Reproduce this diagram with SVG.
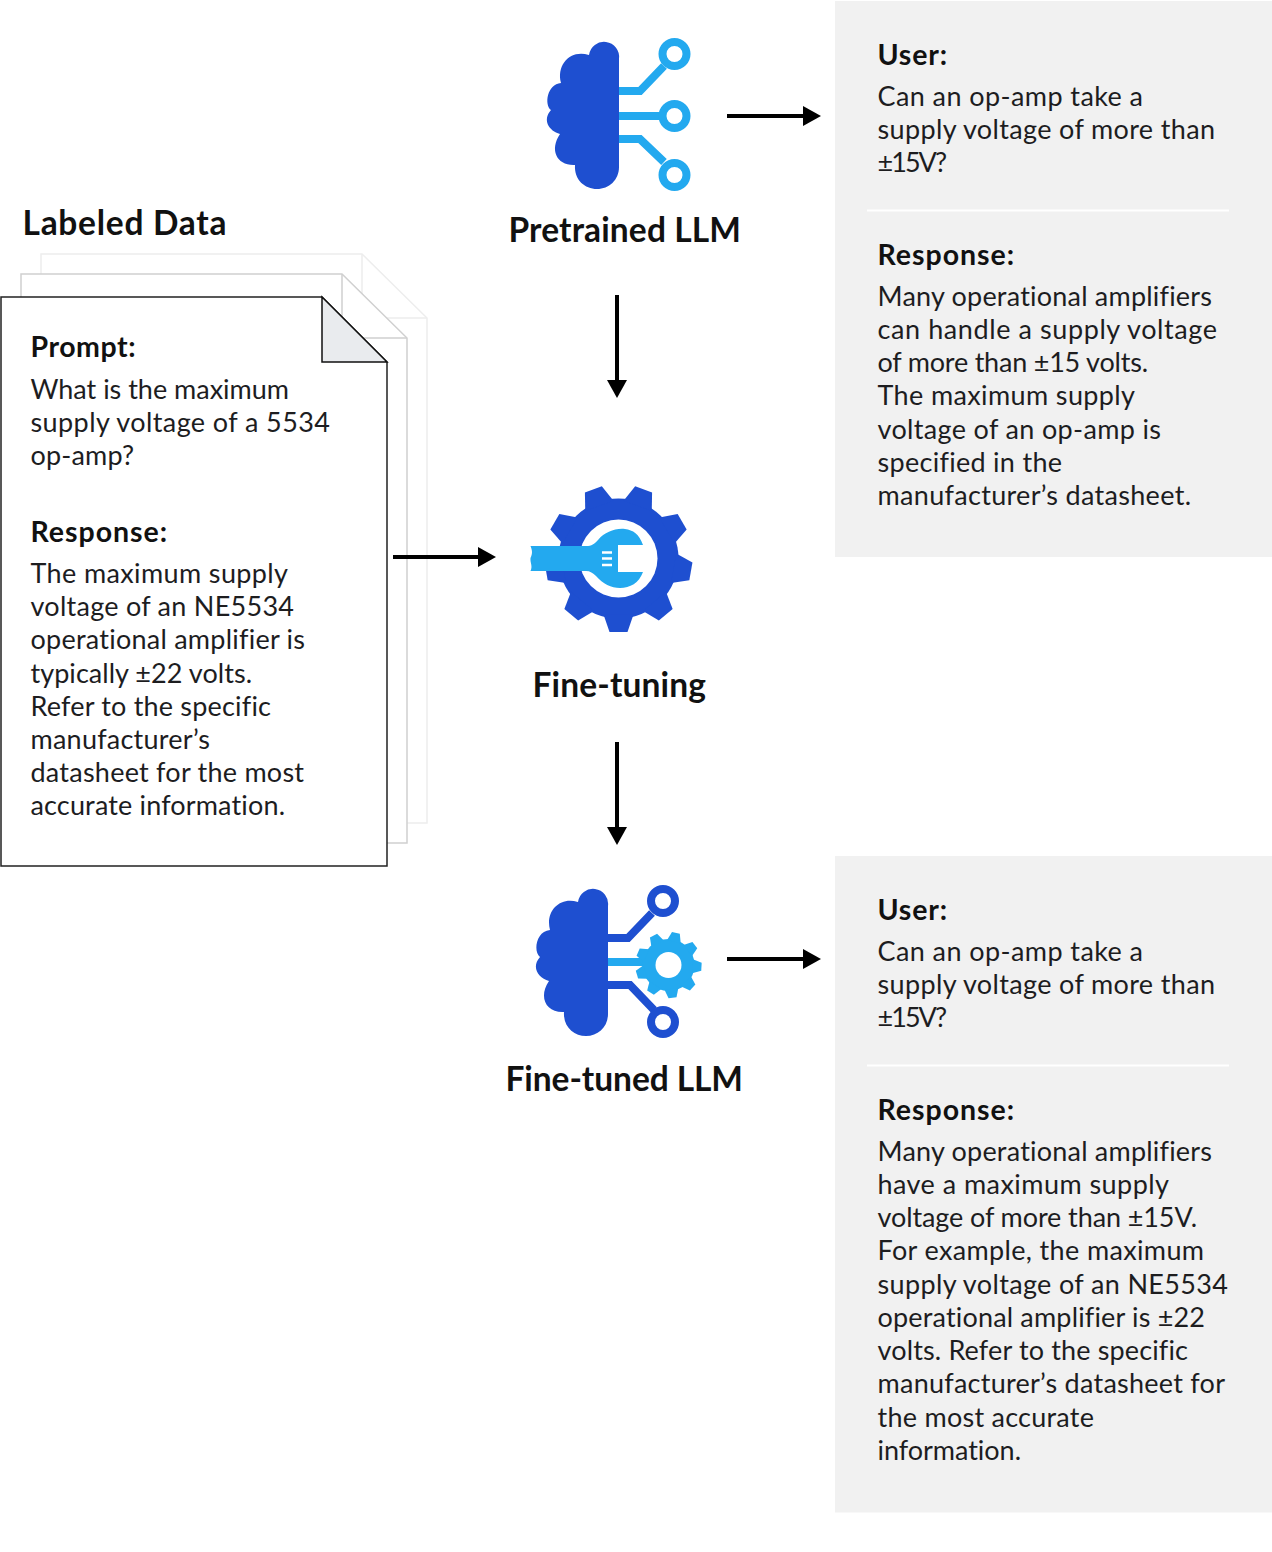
<svg xmlns="http://www.w3.org/2000/svg" xmlns:xlink="http://www.w3.org/1999/xlink" width="1272" height="1552" viewBox="0 0 1272 1552">
<style>
text{font-family:"Lato","Liberation Sans",sans-serif;fill:#1d1d1f;font-variant-ligatures:none}
.b{font-size:27px;font-weight:400}
.h{font-size:28.500px;font-weight:700;fill:#111}
.t{font-size:33.500px;font-weight:700;fill:#111}
.panel{fill:#f1f1f1}
.div{stroke:#fff;stroke-width:2}
.arrow{stroke:#000;stroke-width:4;fill:none}
.dark{fill:#1e4fd0}
.light{fill:#23a9ef}
.sl{fill:none;stroke:#23a9ef;stroke-width:8}
.sd{fill:none;stroke:#1e4fd0;stroke-width:8}
</style>
<defs>
<path id="brain" d="M619 59A15 15 0 0 0 589 55C571 49 556 64 561 83C547 84 544 105 551 110C542 120 549 131 560 134C549 150 557 166 575 165C574 180 585 189 597 189C609 189 619 180 619 167Z"/>
<polygon id="tooth" points="-15,-56 -9,-73.500 9,-73.500 15,-56"/>
<polygon id="stooth" points="-7,-24 -4,-33 4,-33 7,-24"/>
<marker id="ah" viewBox="0 0 18 20" markerUnits="userSpaceOnUse" markerWidth="18" markerHeight="20" refX="13" refY="10" orient="auto"><path d="M0 0L18 10L0 20Z" fill="#000"/></marker>
</defs>

<g id="labeled-data">
<text class="t" x="22.500" y="235" textLength="204">Labeled Data</text>
</g>
<g id="page-back">
<path d="M41 254H362L427 318V823H41Z" fill="#fff" stroke="#ededed" stroke-width="1.5"/>
<path d="M362 254V318H427" fill="none" stroke="#ededed" stroke-width="1.5"/>
</g>
<g id="page-middle">
<path d="M21 274H342L407 338V843H21Z" fill="#fff" stroke="#d0d0d0" stroke-width="1.5"/>
<path d="M342 274V338H407" fill="none" stroke="#d0d0d0" stroke-width="1.5"/>
</g>
<g id="page-front">
<path d="M1 297H322L387 362V866H1Z" fill="#fff" stroke="#222" stroke-width="1.5"/>
<path d="M322 297V362H387Z" fill="#e9ebee" stroke="#111" stroke-width="1.5"/>
<text class="h" x="30.500" y="357" textLength="105">Prompt:</text>
<text class="b" x="30.500" y="398.500" textLength="258.500">What is the maximum</text>
<text class="b" x="30.500" y="431.500" textLength="299.500">supply voltage of a 5534</text>
<text class="b" x="30.500" y="465" textLength="103.500">op-amp?</text>
<text class="h" x="30.500" y="541.500" textLength="136.500">Response:</text>
<text class="b" x="30.500" y="583" textLength="257.500">The maximum supply</text>
<text class="b" x="30.500" y="616" textLength="263.500">voltage of an NE5534</text>
<text class="b" x="30.500" y="649" textLength="274.500">operational amplifier is</text>
<text class="b" x="30.500" y="683" textLength="221.500">typically ±22 volts.</text>
<text class="b" x="30.500" y="716" textLength="240.500">Refer to the specific</text>
<text class="b" x="30.500" y="749" textLength="179.500">manufacturer’s</text>
<text class="b" x="30.500" y="782" textLength="273.500">datasheet for the most</text>
<text class="b" x="30.500" y="815" textLength="254.500">accurate information.</text>
</g>

<g id="pretrained-llm">
<use xlink:href="#brain" href="#brain" class="dark"/>
<path class="sl" d="M619 91H640L664 66M619 116H662M619 139H640L664 162"/>
<circle cx="674.500" cy="54" r="12" fill="#fff" stroke="#23a9ef" stroke-width="8"/>
<circle cx="674.500" cy="116" r="12" fill="#fff" stroke="#23a9ef" stroke-width="8"/>
<circle cx="674.500" cy="175" r="12" fill="#fff" stroke="#23a9ef" stroke-width="8"/>
<text class="t" x="508.500" y="241.500" textLength="232.500">Pretrained LLM</text>
</g>

<g id="fine-tuning">
<g class="dark" transform="translate(618.500 558.500)">
<circle r="60"/>
<use xlink:href="#tooth" href="#tooth" transform="rotate(180)"/>
<use xlink:href="#tooth" href="#tooth" transform="rotate(220)"/>
<use xlink:href="#tooth" href="#tooth" transform="rotate(260)"/>
<use xlink:href="#tooth" href="#tooth" transform="rotate(300)"/>
<use xlink:href="#tooth" href="#tooth" transform="rotate(340)"/>
<use xlink:href="#tooth" href="#tooth" transform="rotate(20)"/>
<use xlink:href="#tooth" href="#tooth" transform="rotate(60)"/>
<use xlink:href="#tooth" href="#tooth" transform="rotate(100)"/>
<use xlink:href="#tooth" href="#tooth" transform="rotate(140)"/>
<circle r="39" fill="#fff"/>
</g>
<path class="light" d="M530.500 546H586C592 546 594 544 598 540C605 532 615 528 625 529C633 530 639 534 643 545H618V572H643C639 583 630 588 620 588C611 588 603 584 596 576C593 573 590 571 586 571H530.500C533 566 530 563 530.500 558C533 553 532 550 530.500 546Z"/>
<path d="M602 552.500H612M602 558.500H612M602 565H612" stroke="#fff" stroke-width="2.500" fill="none"/>
<text class="t" x="532.500" y="697" textLength="173.500">Fine-tuning</text>
</g>

<g id="fine-tuned-llm">
<use xlink:href="#brain" href="#brain" class="dark" transform="translate(-11 847)"/>
<path class="sd" d="M608 938H628L652 913M608 985H630L654 1010"/>
<path class="sl" d="M608 962H650"/>
<circle cx="663" cy="901" r="12" fill="#fff" stroke="#1e4fd0" stroke-width="8"/>
<circle cx="663" cy="1022" r="12" fill="#fff" stroke="#1e4fd0" stroke-width="8"/>
<g class="light" transform="translate(668.500 965)">
<circle r="26"/>
<use xlink:href="#stooth" href="#stooth" transform="rotate(13)"/>
<use xlink:href="#stooth" href="#stooth" transform="rotate(53)"/>
<use xlink:href="#stooth" href="#stooth" transform="rotate(93)"/>
<use xlink:href="#stooth" href="#stooth" transform="rotate(133)"/>
<use xlink:href="#stooth" href="#stooth" transform="rotate(173)"/>
<use xlink:href="#stooth" href="#stooth" transform="rotate(213)"/>
<use xlink:href="#stooth" href="#stooth" transform="rotate(253)"/>
<use xlink:href="#stooth" href="#stooth" transform="rotate(293)"/>
<use xlink:href="#stooth" href="#stooth" transform="rotate(333)"/>
<circle r="13" fill="#fff"/>
</g>
<text class="t" x="505.500" y="1091" textLength="237.500">Fine-tuned LLM</text>
</g>

<g id="connectors">
<path class="arrow" marker-end="url(#ah)" d="M727 116H816"/>
<path class="arrow" marker-end="url(#ah)" d="M617 295V393"/>
<path class="arrow" marker-end="url(#ah)" d="M393 557H491"/>
<path class="arrow" marker-end="url(#ah)" d="M617 742V840"/>
<path class="arrow" marker-end="url(#ah)" d="M727 959H816"/>
</g>

<g id="output-pretrained">
<rect class="panel" x="835" y="1" width="437" height="556"/>
<path class="div" d="M867 210.500H1229"/>
<text class="h" x="877.500" y="65" textLength="69.500">User:</text>
<text class="b" x="877.500" y="106" textLength="265.500">Can an op-amp take a</text>
<text class="b" x="877.500" y="139" textLength="337.500">supply voltage of more than</text>
<text class="b" x="877.500" y="172" textLength="69.500">±15V?</text>
<text class="h" x="877.500" y="265" textLength="136.500">Response:</text>
<text class="b" x="877.500" y="306" textLength="334.500">Many operational amplifiers</text>
<text class="b" x="877.500" y="339" textLength="339.500">can handle a supply voltage</text>
<text class="b" x="877.500" y="372" textLength="270.500">of more than ±15 volts.</text>
<text class="b" x="877.500" y="405" textLength="257.500">The maximum supply</text>
<text class="b" x="877.500" y="438.500" textLength="283.500">voltage of an op-amp is</text>
<text class="b" x="877.500" y="471.500" textLength="184.500">specified in the</text>
<text class="b" x="877.500" y="505" textLength="313.500">manufacturer’s datasheet.</text>
</g>

<g id="output-fine-tuned">
<rect class="panel" x="835" y="856" width="437" height="656.500"/>
<path class="div" d="M867 1065.500H1229"/>
<text class="h" x="877.500" y="920" textLength="69.500">User:</text>
<text class="b" x="877.500" y="961" textLength="265.500">Can an op-amp take a</text>
<text class="b" x="877.500" y="994" textLength="337.500">supply voltage of more than</text>
<text class="b" x="877.500" y="1027" textLength="69.500">±15V?</text>
<text class="h" x="877.500" y="1120" textLength="136.500">Response:</text>
<text class="b" x="877.500" y="1161" textLength="334.500">Many operational amplifiers</text>
<text class="b" x="877.500" y="1194" textLength="291.500">have a maximum supply</text>
<text class="b" x="877.500" y="1227" textLength="319.500">voltage of more than ±15V.</text>
<text class="b" x="877.500" y="1260" textLength="326.500">For example, the maximum</text>
<text class="b" x="877.500" y="1294" textLength="350.500">supply voltage of an NE5534</text>
<text class="b" x="877.500" y="1327" textLength="327.500">operational amplifier is ±22</text>
<text class="b" x="877.500" y="1360" textLength="310.500">volts. Refer to the specific</text>
<text class="b" x="877.500" y="1393" textLength="347.500">manufacturer’s datasheet for</text>
<text class="b" x="877.500" y="1427" textLength="216.500">the most accurate</text>
<text class="b" x="877.500" y="1460" textLength="143.500">information.</text>
</g>
</svg>
